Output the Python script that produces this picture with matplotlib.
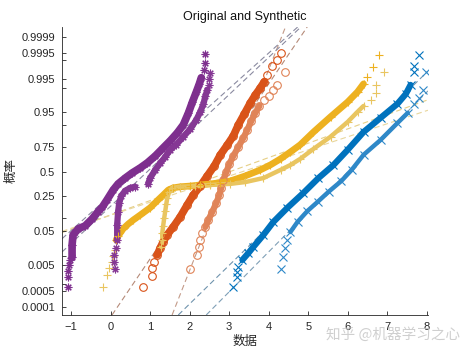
import numpy as np
import matplotlib.pyplot as plt
from statistics import NormalDist

plt.rcParams['font.family'] = ['Liberation Sans', 'Noto Sans CJK SC', 'DejaVu Sans']
nan = np.nan

# normal-probability plot data: x = sample value, z = standard normal quantile
# "body" = dense part of each curve, "tail" = sparse outlying points
pur_org_x = [-0.975, -0.975, -0.95, -0.82, -0.645, -0.47, -0.32, -0.21, -0.09, 0.065, 0.19, 0.37, 0.545,
             0.75, 0.93, 1.13, 1.31, 1.51, 1.69, 1.84, 1.97, 2.07, 2.17, 2.245, 2.295]
pur_org_z = [-2.35, -2.02, -1.74, -1.57, -1.49, -1.30, -1.10, -0.97, -0.77, -0.50, -0.33, -0.17, -0.03,
             0.11, 0.25, 0.44, 0.64, 0.86, 1.08, 1.30, 1.63, 1.93, 2.21, 2.43, 2.60]
pur_org_tx = [-1.076, -1.076, -1.076, -1.05, -1.025, 2.37, 2.40, 2.40]
pur_org_tz = [-3.18, -2.90, -2.73, -2.57, -2.43, 2.82, 3.01, 3.26]

pur_syn_x = [0.166, 0.166, 0.19, 0.217, 0.27, 0.37, 0.50, 0.62, nan, 0.95, 1.0, 1.13, 1.26, 1.38, 1.51,
             1.66, 1.84, 2.02, 2.17, 2.27, 2.35, 2.40, 2.45]
pur_syn_z = [-1.88, -1.46, -1.10, -0.86, -0.66, -0.52, -0.44, -0.41, nan, -0.33, -0.17, 0.055, 0.25, 0.41,
             0.61, 0.75, 0.97, 1.19, 1.44, 1.66, 1.88, 2.10, 2.27]
pur_syn_tx = [0.115, 0.09, 0.09, 0.14, 2.50, 2.50, 2.52]
pur_syn_tz = [-2.68, -2.49, -2.29, -2.10, 2.40, 2.57, 2.73]

ora_org_x = [1.18, 1.256, 1.33, 1.43, 1.585, 1.763, 1.94, 2.09, 2.27, 2.447, 2.625, 2.777, 2.955, 3.106,
             3.233, 3.385, 3.537, 3.664, 3.79, 3.89]
ora_org_z = [-2.29, -2.10, -1.93, -1.74, -1.52, -1.24, -0.91, -0.64, -0.39, -0.11, 0.166, 0.47, 0.746,
             0.994, 1.30, 1.60, 1.906, 2.127, 2.32, 2.49]
ora_org_tx = [0.825, 1.053, 1.053, 1.10, 3.97, 4.095, 4.22, 4.30]
ora_org_tz = [-3.18, -2.87, -2.65, -2.49, 2.68, 2.93, 3.09, 3.29]

ora_syn_x = [2.397, 2.473, 2.574, 2.675, 2.75, 2.80, 2.853, 2.93, 3.005, 3.106, 3.233, 3.36, 3.46, 3.563,
             3.664, 3.766]
ora_syn_z = [-1.52, -1.33, -1.10, -0.86, -0.64, -0.44, -0.22, 0.0, 0.22, 0.44, 0.69, 0.94, 1.16, 1.41,
             1.63, 1.82]
ora_syn_tx = [2.017, 2.194, 2.245, 2.27, 2.32, 3.89, 4.02, 4.12, 4.22, 4.425]
ora_syn_tz = [-2.68, -2.29, -2.07, -1.88, -1.69, 1.99, 2.10, 2.27, 2.40, 2.76]

yel_org_x = [0.14, 0.19, 0.318, 0.445, 0.57, 0.75, 1.0, 1.205, 1.33, 1.46, 1.585, 1.763, 2.017, 2.27,
             2.523, 2.777, 3.03, 3.41, 3.79, 4.04, 4.30, 4.55, 4.80, 5.134, 5.565, 6.0, 6.25, 6.40]
yel_org_z = [-1.88, -1.77, -1.57, -1.44, -1.33, -1.19, -0.99, -0.77, -0.64, -0.50, -0.44, -0.41, -0.39,
             -0.36, -0.33, -0.30, -0.25, -0.11, 0.055, 0.19, 0.36, 0.55, 0.75, 1.10, 1.52, 1.93, 2.21, 2.43]
yel_org_tx = [6.50, 6.63, 6.78]
yel_org_tz = [2.62, 2.90, 3.23]

yel_syn_x = [1.28, 1.307, 1.307, 1.33, 1.357, 1.383, 1.41, 1.434, 1.484, 1.56, 1.763, 2.14, 2.523, 3.03,
             3.41, 3.867, 4.30, 4.55, 4.80, 5.134, 5.565, 6.0, 6.25, 6.40]
yel_syn_z = [-2.07, -1.88, -1.69, -1.49, -1.27, -1.08, -0.88, -0.72, -0.55, -0.44, -0.41, -0.39, -0.36,
             -0.33, -0.28, -0.17, 0.055, 0.19, 0.36, 0.635, 0.97, 1.38, 1.66, 1.82]
yel_syn_tx = [-0.19, -0.087, -0.037, 0.04, 0.065, 0.115, 6.58, 6.71, 6.71, 6.91]
yel_syn_tz = [-3.18, -2.85, -2.65, -2.49, -2.32, -2.15, 1.99, 2.18, 2.40, 2.76]

blu_org_x = [3.335, 3.487, 3.613, 3.867, 4.12, 4.475, 4.88, 5.26, 5.64, 6.0, 6.40, 6.83, 7.26, 7.47, 7.59]
blu_org_z = [-2.43, -2.24, -2.07, -1.74, -1.38, -0.99, -0.58, -0.17, 0.19, 0.61, 1.10, 1.49, 1.88, 2.15, 2.40]
blu_org_tx = [3.106, 3.208, 3.208, 3.233, 7.67, 7.67, 7.80]
blu_org_tz = [-3.18, -2.90, -2.76, -2.62, 2.76, 2.93, 3.23]

blu_syn_x = [4.55, 4.73, 4.98, 5.236, 5.515, 5.84, 6.10, 6.40, 6.83, 7.26, 7.52]
blu_syn_z = [-1.66, -1.38, -1.08, -0.83, -0.55, -0.25, 0.055, 0.47, 0.88, 1.35, 1.63]
blu_syn_tx = [4.30, 4.374, 4.425, 4.475, 7.67, 7.80, 7.90, 7.97]
blu_syn_tz = [-2.68, -2.35, -2.10, -1.88, 1.88, 2.04, 2.27, 2.76]

prob_ticks = [0.0001, 0.0005, 0.001, 0.005, 0.01, 0.05, 0.1, 0.25, 0.5, 0.75, 0.9, 0.95, 0.99, 0.995,
              0.999, 0.9995, 0.9999]
prob_labels = ['0.0001', '0.0005', '', '0.005', '', '0.05', '', '0.25', '0.5', '0.75', '', '0.95', '',
               '0.995', '', '0.9995', '0.9999']

nd = NormalDist()
asterisk = (8, 2, 0)

fig = plt.figure(figsize=(4.74, 3.55), dpi=100)
ax = fig.add_axes([0.1308, 0.1127, 0.772, 0.8113])


def normplot(x, z, tx, tz, color, line_color, marker, band):
    # reference line through the quartiles, as normplot does
    xs = np.concatenate([np.array(x, float), tx])
    zs = np.concatenate([np.array(z, float), tz])
    ok = ~np.isnan(xs)
    order = np.argsort(zs[ok])
    q1 = np.interp(-0.6745, zs[ok][order], xs[ok][order])
    q3 = np.interp(0.6745, zs[ok][order], xs[ok][order])
    ax.axline((q1, -0.6745), (q3, 0.6745), color=line_color, lw=0.8, ls=(0, (5, 3)), zorder=1)
    ax.plot(x, z, '-', color=color, lw=band, solid_capstyle='round', zorder=2)
    ax.plot(x, z, ls='none', marker=marker, color=color, ms=5.5, mfc='none', mew=0.8, zorder=3)
    ax.plot(tx, tz, ls='none', marker=marker, color=color, ms=5.5, mfc='none', mew=0.8, zorder=3)


normplot(blu_org_x, blu_org_z, blu_org_tx, blu_org_tz, '#0072BD', '#6f93ad', 'x', 4.5)
normplot(blu_syn_x, blu_syn_z, blu_syn_tx, blu_syn_tz, '#2e88c8', '#7f9fb6', 'x', 3.2)
normplot(ora_org_x, ora_org_z, ora_org_tx, ora_org_tz, '#D95319', '#b58a78', 'o', 5.5)
normplot(ora_syn_x, ora_syn_z, ora_syn_tx, ora_syn_tz, '#E08458', '#c39a88', 'o', 4.5)
normplot(yel_org_x, yel_org_z, yel_org_tx, yel_org_tz, '#EDB120', '#e6cf86', '+', 4.8)
normplot(yel_syn_x, yel_syn_z, yel_syn_tx, yel_syn_tz, '#E9C560', '#e8d69c', '+', 3.2)
normplot(pur_org_x, pur_org_z, pur_org_tx, pur_org_tz, '#7E2F8E', '#8a8aa0', asterisk, 5.5)
normplot(pur_syn_x, pur_syn_z, pur_syn_tx, pur_syn_tz, '#853794', '#8a8aa0', asterisk, 4.5)

ax.set_xlim(-1.23, 8.03)
ax.set_ylim(-3.95, 4.0)
ax.set_xticks(range(-1, 9))
ax.set_yticks([nd.inv_cdf(p) for p in prob_ticks])
ax.set_yticklabels(prob_labels)

for s in ['top', 'right']:
    ax.spines[s].set_visible(False)
for s in ['left', 'bottom']:
    ax.spines[s].set_color('#262626')
    ax.spines[s].set_linewidth(0.6)
ax.tick_params(direction='in', length=3, width=0.6, colors='#262626', labelsize=8, pad=5)

ax.set_title('Original and Synthetic', fontsize=9, color='#111111', pad=5)
ax.set_xlabel('数据', family=['Noto Sans CJK SC'], fontsize=9, color='#262626', labelpad=2)
ax.set_ylabel('概率', family=['Noto Sans CJK SC'], fontsize=9, color='#262626', labelpad=3)

fig.text(0.97, 0.058, '知乎 @机器学习之心', family=['Noto Sans CJK SC', 'DejaVu Sans'],
         fontsize=10.5, color='#c4c4c4', alpha=0.8, ha='right', va='center')

fig.savefig('out.png', dpi=100)
